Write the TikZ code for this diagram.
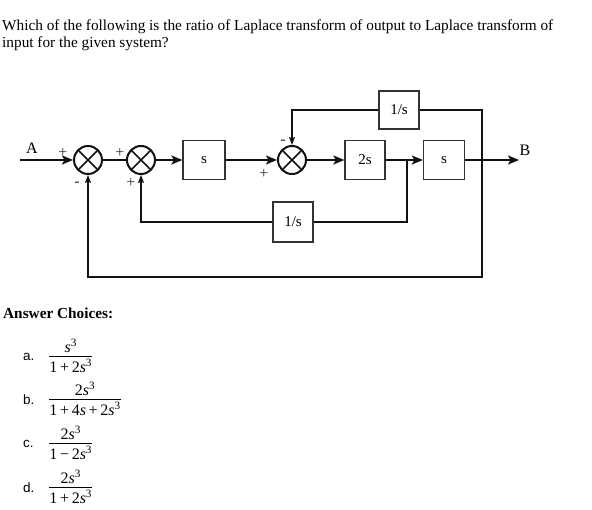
\documentclass[tikz,border=0pt]{standalone}
\usepackage{amsmath}
\usepackage{fontspec}
\setmainfont{Liberation Serif}
\newfontfamily\choicefont{Liberation Sans}
\usetikzlibrary{arrows.meta,positioning,calc}
\definecolor{ink}{HTML}{111111}
\definecolor{boxline}{HTML}{333333}
\newcommand{\sq}{\textit{s}\textsuperscript{3}}
\newcommand{\ans}[2]{$\dfrac{\text{\raisebox{-3.5pt}{#1}}}{\text{#2}}$}
\tikzset{
  sig/.style={draw=ink, line width=1.8pt, -{Stealth[length=11pt,width=9pt,inset=2.5pt]}},
  wire/.style={draw=ink, line width=1.8pt},
  fb/.style={draw=ink, line width=1.3pt},
  fbarrow/.style={fb, -{Stealth[length=8pt,width=6pt,inset=1.5pt]}},
  blk/.style={draw=boxline, line width=1.3pt, minimum width=40pt, minimum height=39pt, inner sep=0pt, font=\fontsize{15}{17}\selectfont},
  summer/.style={circle, draw=ink, line width=2pt, minimum size=28pt, inner sep=0pt,
    path picture={\draw[line width=1.5pt] (path picture bounding box.north west)--(path picture bounding box.south east)
      (path picture bounding box.south west)--(path picture bounding box.north east);}},
  sgn/.style={font=\fontsize{16}{16}\selectfont, inner sep=0pt, text=boxline},
  lab/.style={font=\fontsize{16}{16}\selectfont, inner sep=0pt},
  txt/.style={font=\fontsize{15.3}{18}\selectfont, inner sep=0pt, anchor=base west},
  choice/.style={font=\choicefont\fontsize{13.5}{13.5}\selectfont, inner sep=0pt, anchor=west},
}
\begin{document}
\begin{tikzpicture}[x=1pt,y=-1pt]
  \useasboundingbox (0,0) rectangle (592,510);
  \node[txt] (q1) at (2,31) {Which of the following is the ratio of Laplace transform of output to Laplace transform of};
  \node[txt] (q2) at (2,48) {input for the given system?};
  \coordinate (in) at (20,160);
  \coordinate (out) at (519,160);
  \coordinate (split) at (407,160);
  \coordinate (pick) at (482,160);
  \coordinate (low) at (482,277);
  \node[summer] (sum1) at (88,160) {};
  \node[summer] (sum2) at (141,160) {};
  \node[blk, minimum width=42pt] (g1) at (204,160) {s};
  \node[summer] (sum3) at (292,160) {};
  \node[blk] (g2) at (365,160) {2s};
  \node[blk, minimum width=41pt] (g3) at (444,160) {s};
  \node[blk, minimum height=38pt] (h1) at (399,110) {1/s};
  \node[blk, minimum height=40pt] (h2) at (293,222) {1/s};
  \draw[sig] (in) -- (sum1);
  \draw[wire] (sum1) -- (sum2);
  \draw[sig] (sum2) -- (g1);
  \draw[sig] (g1) -- (sum3);
  \draw[sig] (sum3) -- (g2);
  \draw[sig] (g2) -- (g3);
  \draw[sig] (g3) -- (out);
  \draw[fb] (pick) |- (h1);
  \draw[fbarrow] (h1) -| (sum3);
  \draw[fb] (split) |- (h2);
  \draw[fbarrow] (h2) -| (sum2);
  \draw[fbarrow] (pick) -- (low) -| (sum1);
  \node[lab] (A) at (32,148) {A};
  \node[lab] (B) at (525,150) {B};
  \foreach \s/\x/\y in {+/63/153, -/77/184, +/120/153, +/131/183, -/283/142, +/264/174}
    \node[sgn] at (\x,\y) {\s};
  \node[font=\bfseries\fontsize{15.3}{15.3}\selectfont, inner sep=0pt, anchor=west] (hdr) at (3,313) {Answer Choices:};
  \foreach \l/\num/\den/\y in {a/\sq/1\,+\,2\sq/357, b/2\sq/1\,+\,4\textit{s}\,+\,2\sq/400, c/2\sq/1\,\textminus\,2\sq/444, d/2\sq/1\,+\,2\sq/488} {
    \node[choice] (lab\l) at (23,\y) {\l.};
    \node[inner sep=0pt, anchor=base west, font=\fontsize{16}{18}\selectfont] (frac\l) at (48,\y+4) {\ans{\num}{\den}};
  }
\end{tikzpicture}
\end{document}
